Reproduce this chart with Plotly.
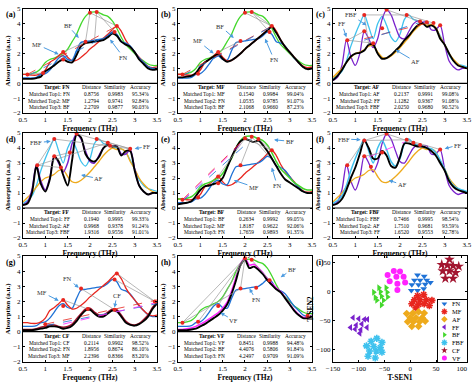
import plotly.graph_objects as go

# ---------------- data ----------------
FREQ = [0.5, 0.6, 0.7, 0.8, 0.9, 1.0, 1.1, 1.2, 1.3, 1.4, 1.5, 1.6, 1.7, 1.8, 1.9, 2.0,
        2.1, 2.2, 2.3, 2.4, 2.5, 2.6, 2.7, 2.8, 2.9, 3.0, 3.1, 3.2, 3.3, 3.4, 3.5]

FN_REF = [0.35, 0.35, 0.35, 0.4, 0.6, 0.65, 0.9, 1.3, 1.7, 1.85, 1.6, 1.55, 2.2, 2.75, 2.8, 2.85,
          2.9, 2.95, 3.0, 3.2, 3.45, 3.3, 2.8, 2.7, 2.5, 2.1, 1.7, 1.4, 1.1, 1.0, 1.0]
FN_TGT = [0.3, 0.3, 0.3, 0.35, 0.45, 0.8, 1.0, 1.2, 1.45, 1.6, 1.45, 1.4, 1.9, 2.5, 2.7, 2.75,
          2.8, 2.85, 2.9, 3.1, 3.35, 3.2, 2.8, 2.6, 2.45, 2.1, 1.6, 1.3, 1.0, 0.9, 0.95]
MF_REF = [0.6, 0.6, 0.55, 0.55, 0.65, 0.9, 1.4, 1.6, 1.85, 2.1, 1.75, 1.5, 1.55, 1.75, 2.0, 2.3,
          2.55, 2.8, 3.05, 3.3, 3.6, 3.85, 3.5, 2.9, 2.45, 2.1, 1.75, 1.4, 1.15, 1.05, 1.1]
MF_TGT = [0.4, 0.4, 0.45, 0.5, 0.7, 1.1, 1.4, 1.6, 1.8, 1.95, 1.65, 1.45, 1.55, 1.75, 2.0, 2.3,
          2.55, 2.8, 3.05, 3.3, 3.55, 3.8, 3.4, 2.9, 2.45, 2.1, 1.75, 1.4, 1.1, 0.95, 1.0]
BF_REF = [0.6, 0.6, 0.65, 0.75, 1.0, 1.4, 1.6, 1.7, 1.85, 2.0, 2.3, 2.8, 3.3, 4.0, 4.5, 4.75,
          4.8, 4.75, 4.6, 4.5, 4.2, 3.7, 3.1, 2.6, 2.3, 2.0, 1.7, 1.5, 1.3, 1.2, 1.2]
BF_TGT = [0.25, 0.3, 0.35, 0.45, 0.8, 1.2, 1.45, 1.5, 1.6, 1.7, 2.0, 2.7, 3.4, 4.0, 4.45, 4.6,
          4.5, 4.4, 4.5, 4.2, 3.8, 3.3, 2.8, 2.3, 1.9, 1.7, 1.5, 1.3, 1.1, 1.0, 1.0]
AF_REF = [0.4, 0.7, 1.0, 1.4, 1.75, 2.0, 2.1, 2.25, 2.5, 2.55, 2.1, 1.75, 1.7, 1.85, 2.1, 2.4,
          2.75, 3.1, 3.5, 3.8, 4.0, 3.9, 3.95, 3.75, 3.1, 2.6, 2.0, 1.6, 1.3, 1.1, 1.0]
AF_TGT = [0.2, 0.5, 0.9, 1.4, 1.8, 2.0, 2.05, 2.2, 2.6, 2.6, 2.0, 1.65, 1.7, 1.9, 2.2, 2.5,
          2.9, 3.2, 3.6, 3.9, 4.05, 3.8, 3.9, 3.7, 3.0, 2.6, 2.0, 1.5, 1.2, 1.1, 1.0]
FF_REF = [0.2, 0.4, 1.2, 2.9, 1.8, 1.2, 2.0, 3.5, 3.0, 2.4, 3.0, 4.3, 4.95, 4.6, 3.8, 3.1,
          3.0, 3.5, 4.0, 4.2, 4.1, 4.15, 3.6, 3.6, 3.9, 2.6, 1.5, 1.1, 0.9, 1.0, 1.0]
FF_TGT = [0.2, 0.3, 1.0, 2.8, 1.6, 1.1, 1.9, 3.4, 3.1, 2.2, 1.5, 3.2, 4.9, 4.7, 3.6, 3.2,
          3.1, 3.4, 4.0, 4.2, 4.1, 4.1, 3.5, 3.8, 3.8, 2.5, 1.5, 1.1, 0.9, 1.0, 1.0]
FBF_REF = [0.3, 0.5, 0.8, 1.5, 2.5, 3.3, 4.0, 4.6, 3.8, 3.0, 4.0, 4.5, 3.9, 3.1, 2.8, 3.3,
           4.3, 4.6, 4.3, 4.2, 4.1, 4.0, 3.95, 3.7, 3.2, 2.6, 1.9, 1.5, 1.3, 1.2, 1.1]
FBF_TGT = [0.2, 0.3, 0.6, 1.2, 2.0, 2.7, 3.6, 4.5, 4.0, 3.3, 3.3, 3.8, 3.5, 2.8, 2.7, 3.4,
           4.3, 4.3, 4.2, 4.1, 4.1, 4.0, 3.8, 3.5, 3.0, 2.5, 1.8, 1.4, 1.2, 1.1, 1.0]
CF_REF = [0.15, 0.15, 0.15, 0.2, 0.3, 0.35, 0.45, 0.45, 0.35, 0.3, 0.35, 0.5, 0.85, 1.2, 1.5, 1.55,
          1.3, 1.1, 1.1, 1.3, 1.5, 1.45, 1.1, 0.7, 0.5, 0.45, 0.55, 0.8, 1.1, 1.6, 1.95]
CF_TGT = [0.1, 0.1, 0.1, 0.15, 0.2, 0.25, 0.35, 0.35, 0.3, 0.2, 0.25, 0.4, 0.7, 1.1, 1.4, 1.45,
          1.2, 1.0, 1.0, 1.2, 1.4, 1.35, 1.0, 0.6, 0.45, 0.4, 0.5, 0.7, 1.0, 1.5, 1.85]
VF_REF = [0.15, 0.15, 0.2, 0.25, 0.35, 0.5, 0.65, 0.85, 1.05, 1.25, 1.55, 1.95, 2.7, 3.6, 4.5, 4.85,
          4.4, 4.45, 4.2, 3.9, 3.5, 3.2, 2.9, 2.65, 2.25, 1.85, 1.45, 1.15, 0.95, 0.95, 1.05]
VF_TGT = [0.1, 0.1, 0.1, 0.15, 0.2, 0.35, 0.5, 0.7, 0.9, 1.1, 1.4, 1.8, 2.5, 3.4, 4.4, 4.75,
          4.2, 4.3, 4.1, 3.8, 3.4, 3.1, 2.8, 2.6, 2.2, 1.8, 1.4, 1.1, 0.9, 0.9, 1.0]

CLASSES = ["FN", "MF", "AF", "FF", "BF", "FBF", "CF", "VF"]
REF = {"FN": FN_REF, "MF": MF_REF, "AF": AF_REF, "FF": FF_REF,
       "BF": BF_REF, "FBF": FBF_REF, "CF": CF_REF, "VF": VF_REF}
TGT = {"FN": FN_TGT, "MF": MF_TGT, "AF": AF_TGT, "FF": FF_TGT,
       "BF": BF_TGT, "FBF": FBF_TGT, "CF": CF_TGT, "VF": VF_TGT}

PANEL_TAGS = ["(a)", "(b)", "(c)", "(d)", "(e)", "(f)", "(g)", "(h)", "(i)"]
PANEL_TARGET = ["FN", "MF", "AF", "FF", "BF", "FBF", "CF", "VF"]
PANEL_OTHERS = [["BF", "MF"], ["BF", "FN"], ["FBF", "FF"], ["FBF", "AF"],
                ["MF", "FN"], ["FF", "AF"], ["FN", "MF"], ["BF", "FN"]]

TOP_NAMES = [["FN", "MF", "BF"], ["MF", "FN", "BF"], ["AF", "FF", "FBF"], ["FF", "AF", "FBF"],
             ["BF", "MF", "FN"], ["FBF", "AF", "FF"], ["CF", "FN", "MF"], ["VF", "BF", "FN"]]
DIST = [[0.8756, 1.2794, 2.2709], [0.1540, 1.0535, 2.1068], [0.2137, 1.1282, 2.0250],
        [0.1940, 0.9968, 1.9316], [0.2634, 1.8187, 1.7659], [0.7466, 1.7510, 1.6520],
        [0.2114, 1.8956, 2.2396], [0.8451, 4.4076, 4.2497]]
SIM = [[0.9983, 0.9741, 0.9877], [0.9984, 0.9785, 0.9660], [0.9991, 0.9367, 0.9680],
       [0.9995, 0.9378, 0.9556], [0.9992, 0.9622, 0.9893], [0.9995, 0.9681, 0.9553],
       [0.9902, 0.8674, 0.8366], [0.9988, 0.5806, 0.9709]]
ACC = [[95.34, 92.84, 90.03], [99.04, 91.07, 87.23], [99.08, 91.08, 90.52],
       [99.33, 91.24, 91.01], [99.05, 92.06, 91.35], [98.54, 93.59, 92.78],
       [98.52, 86.10, 83.20], [94.48, 91.84, 91.09]]

# peak markers per panel
DOTS_X = [[0.6, 0.95, 1.4, 1.4, 1.9, 2.0, 2.15, 2.55, 2.6],
          [0.6, 0.95, 1.4, 1.9, 2.0, 2.15, 2.55, 2.6],
          [0.82, 1.2, 1.2, 1.4, 1.6, 1.7, 2.15, 2.45, 2.6, 2.75, 2.9],
          [0.82, 1.2, 1.2, 1.35, 1.55, 1.7, 2.15, 2.4, 2.45, 2.9],
          [0.6, 0.95, 1.4, 1.4, 1.9, 2.0, 2.15, 2.3, 2.6],
          [0.82, 1.2, 1.2, 1.35, 1.6, 1.7, 2.15, 2.3, 2.45, 2.9],
          [1.0, 1.4, 1.4, 1.8, 1.95, 2.55, 2.55, 2.6, 3.45],
          [0.6, 0.95, 1.4, 1.9, 2.0, 2.15, 2.25, 2.55, 3.4]]
DOTS_Y = [[0.6, 0.7, 2.1, 1.6, 2.8, 4.75, 4.8, 3.45, 3.85],
          [0.6, 0.65, 2.1, 2.85, 4.75, 4.8, 3.45, 3.85],
          [2.9, 3.5, 4.6, 2.7, 3.7, 4.95, 4.6, 4.15, 4.1, 4.05, 3.9],
          [2.85, 4.6, 3.45, 2.7, 3.7, 4.95, 4.6, 4.35, 4.15, 3.95],
          [0.55, 0.7, 2.1, 1.65, 2.85, 4.65, 4.75, 4.6, 3.85],
          [2.85, 4.5, 3.45, 2.75, 3.7, 4.95, 4.55, 4.35, 4.2, 3.9],
          [0.5, 2.1, 1.7, 2.85, 1.5, 1.45, 3.45, 3.85, 2.0],
          [0.6, 0.65, 1.7, 2.85, 4.85, 4.75, 2.9, 3.4, 1.05]]

# thin grey matching links  [x0, y0, x1, y1]
LINKS = [[[2.0, 4.75, 1.9, 2.8], [2.15, 4.8, 2.1, 2.85], [2.15, 4.8, 2.55, 3.45], [2.0, 4.75, 2.6, 3.85],
          [0.6, 0.6, 0.95, 0.7], [1.4, 2.1, 1.9, 2.8]],
         [[2.0, 4.75, 2.6, 3.85], [2.15, 4.8, 2.6, 3.85], [2.15, 4.8, 2.55, 3.45], [1.4, 2.1, 1.9, 2.85]],
         [[0.82, 2.9, 1.4, 2.7], [1.2, 4.6, 1.3, 2.6], [1.2, 4.6, 2.15, 4.6], [1.7, 4.95, 2.45, 4.15],
          [2.15, 4.6, 2.75, 4.05], [0.82, 2.9, 1.2, 3.5]],
         [[0.82, 2.85, 1.2, 4.6], [0.82, 2.85, 1.35, 2.7], [0.82, 2.85, 2.4, 4.35], [1.2, 4.6, 2.9, 3.95],
          [1.7, 4.95, 2.9, 3.95], [2.15, 4.6, 2.9, 3.95], [1.2, 3.45, 1.55, 3.7]],
         [[2.0, 4.65, 2.6, 3.85], [2.15, 4.75, 2.55, 3.4], [2.15, 4.75, 1.9, 2.85], [2.3, 4.6, 2.6, 3.85],
          [1.4, 2.1, 2.0, 4.65]],
         [[0.82, 2.85, 1.2, 4.5], [1.2, 4.5, 1.7, 4.95], [1.2, 4.5, 2.15, 4.55], [1.7, 4.95, 2.45, 4.2],
          [2.15, 4.55, 2.9, 3.9], [1.2, 3.45, 1.6, 3.7]],
         [[1.8, 2.85, 2.55, 1.45], [2.6, 3.85, 3.45, 2.0], [1.4, 2.1, 1.95, 1.5], [2.55, 3.45, 3.45, 2.0]],
         [[0.6, 0.6, 2.0, 4.85], [0.95, 0.65, 2.0, 4.85], [1.4, 1.7, 2.0, 4.85], [1.9, 2.85, 2.0, 4.85],
          [0.6, 0.6, 1.9, 2.85], [2.15, 4.75, 2.55, 3.4]]]

# dashed trend links  [class, x0, y0, x1, y1]
DASHES = [[["MF", 0.6, 0.6, 2.6, 3.85], ["FN", 0.6, 0.5, 2.55, 3.45]],
          [["MF", 0.6, 0.6, 2.6, 3.85], ["FN", 0.6, 0.5, 2.55, 3.75]],
          [["MF", 1.2, 3.0, 2.6, 4.05], ["FN", 1.2, 2.9, 2.45, 4.1]],
          [],
          [["MF", 0.6, 0.55, 2.0, 4.65], ["FN", 0.6, 0.45, 2.15, 4.6], ["VF", 0.6, 0.5, 2.0, 4.55]],
          [["VF", 1.3, 3.4, 2.1, 4.4]],
          [["MF", 1.0, 0.5, 3.5, 2.1], ["FN", 1.0, 0.4, 3.5, 1.85], ["VF", 1.4, 0.5, 3.45, 1.9]],
          []]

# curve labels  [text, text_x, text_y, arrow_x, arrow_y]
LABELS = [[["BF", 1.5, 3.9, 1.75, 3.05], ["MF", 0.82, 2.6, 1.3, 1.95], ["FN", 2.75, 1.75, 2.45, 2.95]],
          [["BF", 1.45, 3.85, 1.75, 3.05], ["MF", 0.95, 2.85, 1.3, 2.0], ["FN", 2.65, 1.6, 2.45, 3.0]],
          [["FBF", 0.9, 4.6, 1.25, 3.9], ["FF", 0.7, 4.0, 0.8, 3.1], ["AF", 2.35, 1.45, 1.9, 2.25]],
          [["FBF", 0.8, 4.35, 1.12, 4.45], ["FF", 3.28, 4.1, 3.0, 3.95], ["AF", 2.2, 1.95, 1.8, 2.2]],
          [["BF", 3.0, 4.45, 2.65, 4.55], ["MF", 2.2, 1.4, 1.75, 1.85], ["FN", 2.72, 1.5, 2.6, 2.7]],
          [["FBF", 0.74, 4.6, 1.12, 4.55], ["FF", 3.3, 4.2, 3.0, 3.95], ["AF", 2.05, 1.55, 1.75, 1.85]],
          [["FN", 1.5, 3.5, 1.75, 2.9], ["MF", 0.93, 2.6, 1.3, 2.05], ["CF", 2.6, 2.4, 2.55, 1.6]],
          [["BF", 3.05, 4.1, 2.8, 3.6], ["FN", 2.25, 2.1, 2.1, 2.85], ["VF", 1.75, 0.75, 1.45, 1.25]]]

# t-SNE embedding
TSNE_X = {"FN": [14, 27, 8, 19, 32, 3, 16, 29, 39, 2, 14, 26],
          "MF": [14, 26, 8, 19, 31, 42, 3, 16, 27, 37, 11],
          "AF": [-7, 5, 16, 27, 0, 11, 23, -5, 6, 18, 29, 3, 16],
          "FF": [-111, -100, -89, -83, -116, -105, -94, -107, -96, -84, -98],
          "BF": [-61, -47, -71, -58, -45, -68, -56, -44, -65, -52, -56],
          "FBF": [-65, -55, -76, -85, -71, -58, -79, -66, -55, -82, -68],
          "CF": [76, 61, 72, 83, 94, 63, 76, 88, 68, 83],
          "VF": [-32, -20, -44, -27, -13, -40, -25, -10, -25]}
TSNE_Y = {"FN": [29, 27, 20, 20, 20, 12, 12, 13, 16, 2, 2, 5],
          "MF": [-7, -5, -14, -14, -14, -15, -21, -22, -21, -24, -28],
          "AF": [-38, -37, -35, -37, -45, -45, -45, -52, -52, -52, -51, -60, -60],
          "FF": [-45, -47, -48, -48, -62, -58, -56, -65, -66, -62, -72],
          "BF": [7, 7, -1, 0, -1, -10, -8, -9, -15, -15, -23],
          "FBF": [-81, -88, -86, -94, -95, -97, -103, -103, -105, -112, -115],
          "CF": [56, 47, 46, 45, 44, 36, 36, 33, 23, 23],
          "VF": [36, 35, 29, 26, 26, 18, 14, 16, 3]}

X_TICKS = [0.5, 1, 1.5, 2, 2.5, 3, 3.5]
X_TICKTEXT = ["0.5", "1", "1.5", "2", "2.5", "3", "3.5"]
Y_TICKS = [-2, -1, 0, 1, 2, 3, 4, 5]

# ---------------- style ----------------
SERIF = "Liberation Serif, Times New Roman, serif"
COLOR = {"FN": "#1f72d6", "MF": "#e8261f", "AF": "#eeaa1c", "FF": "#7a22cc",
         "BF": "#43d82c", "FBF": "#3fc2ee", "CF": "#a2142f", "VF": "#ff22ff"}
SYMBOL = {"FN": "triangle-down", "MF": "asterisk-open", "AF": "diamond", "FF": "triangle-left",
          "BF": "triangle-right", "FBF": "asterisk-open", "CF": "star", "VF": "circle"}
XD = [[0.0485, 0.3312], [0.3755, 0.6582], [0.7025, 0.9852]]
YD = [[0.7057, 0.9766], [0.3802, 0.6536], [0.0573, 0.3333]]
W, H = 474, 384

fig = go.Figure()
annotations = []
shapes = []
layout_axes = {}


def sfx(i):
    return "" if i == 0 else str(i + 1)


def base_axis(domain, anchor):
    return dict(domain=domain, anchor=anchor, showline=True, mirror="ticks", linecolor="black",
                linewidth=1, ticks="inside", ticklen=2, tickcolor="black", showgrid=False,
                zeroline=False, automargin=False,
                tickfont=dict(size=7, family=SERIF, color="black"))


for p in range(8):
    row, col = divmod(p, 3)
    s = sfx(p)
    xa, ya = "x" + s, "y" + s
    tgt = PANEL_TARGET[p]
    common = dict(xaxis=xa, yaxis=ya, hoverinfo="skip", showlegend=False)

    for cls in PANEL_OTHERS[p]:
        fig.add_trace(go.Scatter(x=FREQ, y=REF[cls], mode="lines",
                                 line=dict(color=COLOR[cls], width=1.3, shape="spline", smoothing=0.8),
                                 **common))
    fig.add_trace(go.Scatter(x=FREQ, y=REF[tgt], mode="lines",
                             line=dict(color=COLOR[tgt], width=1.5, shape="spline", smoothing=0.8),
                             **common))
    fig.add_trace(go.Scatter(x=FREQ, y=TGT[tgt], mode="lines",
                             line=dict(color="black", width=1.9, shape="spline", smoothing=0.8),
                             **common))
    for cls, x0, y0, x1, y1 in DASHES[p]:
        fig.add_trace(go.Scatter(x=[x0, x1], y=[y0, y1], mode="lines", opacity=0.8,
                                 line=dict(color=COLOR[cls], width=1, dash="dash"), **common))
    lx, ly = [], []
    for x0, y0, x1, y1 in LINKS[p]:
        lx += [x0, x1, None]
        ly += [y0, y1, None]
    fig.add_trace(go.Scatter(x=lx, y=ly, mode="lines", line=dict(color="#9a9a9a", width=0.7),
                             **common))
    fig.add_trace(go.Scatter(x=DOTS_X[p], y=DOTS_Y[p], mode="markers",
                             marker=dict(color="#e8261f", size=4), **common))

    shapes.append(dict(type="line", xref=xa, yref=ya, x0=0.5, x1=3.5, y0=0, y1=0,
                       line=dict(color="black", width=1.2)))

    for txt, tx, ty, ax_, ay_ in LABELS[p]:
        annotations.append(dict(x=ax_, y=ay_, ax=tx, ay=ty, xref=xa, yref=ya, axref=xa, ayref=ya,
                                text=txt, showarrow=True, arrowhead=2, arrowsize=0.8, arrowwidth=1,
                                arrowcolor="#4b9be0", font=dict(size=6.5, family=SERIF, color="#333")))

    # results table
    rows = [["<b>Target: %s</b>" % tgt, "Distance", "Similarity", "Accuracy"]]
    for k in range(3):
        rows.append(["Matched Top%d: %s" % (k + 1, TOP_NAMES[p][k]), "%.4f" % DIST[p][k],
                     "%.4f" % SIM[p][k], "%.2f%%" % ACC[p][k]])
    row_y = [-0.28, -0.72, -1.17, -1.62]
    col_x = [1.6, 2.03, 2.57, 3.13]
    for r, cells in enumerate(rows):
        for c, cell in enumerate(cells):
            annotations.append(dict(x=col_x[c], y=row_y[r], xref=xa, yref=ya, text=cell,
                                    showarrow=False, xanchor="right" if c == 0 else "center",
                                    yanchor="middle",
                                    font=dict(size=5.4, family=SERIF, color="black")))

    xax = base_axis(XD[col], ya)
    xax.update(range=[0.5, 3.5], tickvals=X_TICKS, ticktext=X_TICKTEXT,
               title=dict(text="<b>Frequency (THz)</b>", standoff=1,
                          font=dict(size=7.5, family=SERIF, color="black")))
    yax = base_axis(YD[row], xa)
    yax.update(range=[-2, 5], tickvals=Y_TICKS,
               title=dict(text="<b>Absorption (a.u.)</b>", standoff=1,
                          font=dict(size=7, family=SERIF, color="black")))
    layout_axes["xaxis" + s] = xax
    layout_axes["yaxis" + s] = yax

# ---- panel (i): t-SNE ----
for cls in CLASSES:
    mk = dict(symbol=SYMBOL[cls], size=6, color=COLOR[cls])
    if "open" in SYMBOL[cls]:
        mk.update(line=dict(color=COLOR[cls], width=1.6))
    if cls == "CF":
        mk.update(size=8)
    fig.add_trace(go.Scatter(x=TSNE_X[cls], y=TSNE_Y[cls], mode="markers", marker=mk, name=cls,
                             xaxis="x9", yaxis="y9", showlegend=False, hoverinfo="skip"))
xax = base_axis(XD[2], "y9")
xax.update(range=[-150, 110], tickvals=[-150, -100, -50, 0, 50, 100],
           title=dict(text="<b>T-SEN1</b>", standoff=1, font=dict(size=7.5, family=SERIF, color="black")))
yax = base_axis(YD[2], "x9")
yax.update(range=[-122, 62], tickvals=[-100, -50, 0, 50],
           title=dict(text="<b>T-SEN2</b>", standoff=1, font=dict(size=7.5, family=SERIF, color="black")))
layout_axes["xaxis9"] = xax
layout_axes["yaxis9"] = yax

# legend box for (i)
for i, cls in enumerate(CLASSES):
    mk = dict(symbol=SYMBOL[cls], size=5, color=COLOR[cls])
    if "open" in SYMBOL[cls]:
        mk.update(line=dict(color=COLOR[cls], width=1.4))
    fig.add_trace(go.Scatter(x=[0.22], y=[7.5 - i], mode="markers", marker=mk,
                             xaxis="x10", yaxis="y10", showlegend=False, hoverinfo="skip"))
    annotations.append(dict(x=0.42, y=7.5 - i, xref="x10", yref="y10", text=cls, showarrow=False,
                            xanchor="left", yanchor="middle",
                            font=dict(size=6.5, family=SERIF, color="black")))
leg_ax = dict(showline=True, mirror=True, linecolor="black", linewidth=1, showticklabels=False,
              ticks="", showgrid=False, zeroline=False, automargin=False)
layout_axes["xaxis10"] = dict(leg_ax, domain=[438 / W, 0.9852], anchor="y10", range=[0, 1])
layout_axes["yaxis10"] = dict(leg_ax, domain=[0.0573, 1 - 300 / H], anchor="x10", range=[0, 8])

# panel tags
for p, tag in enumerate(PANEL_TAGS):
    row, col = divmod(p, 3)
    annotations.append(dict(x=XD[col][0] - 19 / W, y=YD[row][1] - 6 / H, xref="paper", yref="paper",
                            text="<b>%s</b>" % tag, showarrow=False, xanchor="left", yanchor="middle",
                            font=dict(size=8, family=SERIF, color="black")))

fig.update_layout(width=W, height=H, margin=dict(l=0, r=0, t=0, b=0),
                  paper_bgcolor="white", plot_bgcolor="white", showlegend=False,
                  annotations=annotations, shapes=shapes, **layout_axes)

fig.write_html("out.html", config={"displayModeBar": False},
               post_script="document.body.style.margin='0';document.body.style.overflow='hidden';")
